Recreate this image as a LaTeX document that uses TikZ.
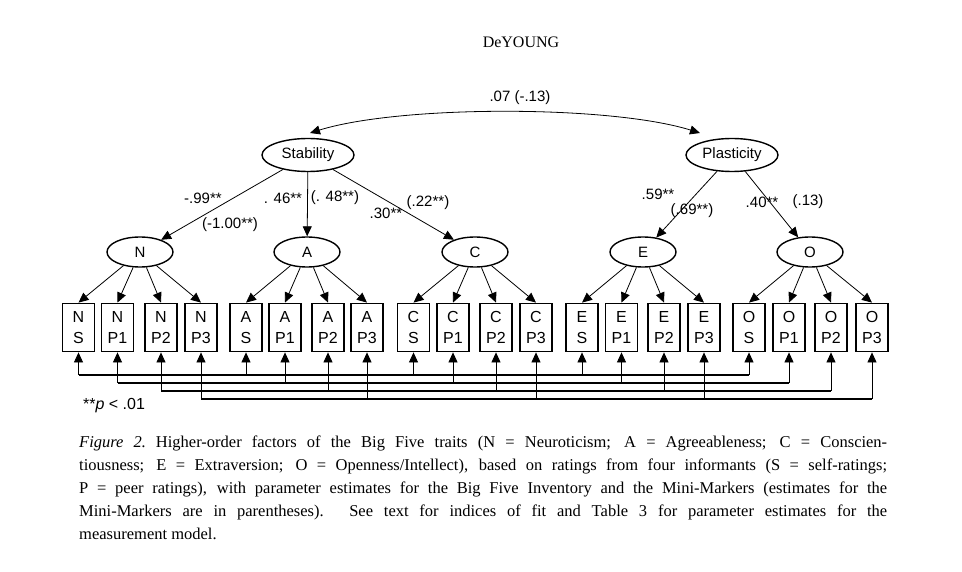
\documentclass[tikz,border=0pt]{standalone}
\usepackage{fontspec}
\setmainfont{Liberation Serif}
\newfontfamily\diag{Liberation Sans}
\usetikzlibrary{arrows.meta,calc,shapes.geometric}
\begin{document}
\begin{tikzpicture}[x=1pt,y=-1pt,
  lat/.style={draw,line width=1.4pt,ellipse,minimum width=66pt,minimum height=30pt,inner sep=0pt,font=\diag\fontsize{15}{16}\selectfont},
  big/.style={lat,minimum width=92pt,minimum height=33pt},
  ind/.style={draw,line width=1.8pt,minimum width=32pt,minimum height=48pt,inner sep=0pt,align=center,font=\diag\fontsize{16}{21}\selectfont},
  arr/.style={-{Triangle[length=10pt,width=9pt]},line width=0.8pt},
  lab/.style={font=\diag\fontsize{15}{16}\selectfont,inner sep=0pt},
  bus/.style={line width=1.1pt}]
\useasboundingbox (0,0) rectangle (962,572);
\node[font=\fontsize{16}{18}\selectfont] (hdr) at (521,42) {D\textsc{e}YOUNG};
\node[big] (stab) at (308,155) {Stability};
\node[big] (plas) at (732,155) {Plasticity};
\coordinate (a1) at (310,133);
\coordinate (a2) at (700,133);
\draw[{Triangle[length=10pt,width=9pt]}-{Triangle[length=10pt,width=9pt]},line width=0.8pt] (a1) .. controls (400,105) and (610,105) .. (a2);
\node[lab] (r) at (520,98) {.07 (-.13)};
\foreach \n/\x in {N/140,A/307,C/475,E/643,O/810}{
  \node[lat] (\n) at (\x,252) {\n};
}
\foreach \n/\xs/\xa/\xb/\xc in {N/78.5/117.5/161/201,A/246/285/328/367,C/413.5/453/496/536,E/582/621.5/664/704,O/749/789/831/872}{
  \node[ind] (\n s) at (\xs,327.5) {\n\\S};
  \node[ind] (\n p1) at (\xa,327.5) {\n\\P1};
  \node[ind] (\n p2) at (\xb,327.5) {\n\\P2};
  \node[ind] (\n p3) at (\xc,327.5) {\n\\P3};
  \foreach \k in {s,p1,p2,p3}{\draw[arr] (\n) -- (\n\k.north);}
}
\draw[arr] (stab) -- (N);
\draw[arr] (stab) -- (A);
\draw[arr] (stab) -- (C);
\draw[arr] (plas) -- (E);
\draw[arr] (plas) -- (O);
\node[lab] (l1) at (203,198) {-.99**};
\node[lab] (l2) at (230,225) {(-1.00**)};
\node[lab] (l3) at (283,198) {. 46**};
\node[lab] (l4) at (335,198) {(. 48**)};
\node[lab] (l5) at (386,213) {.30**};
\node[lab] (l6) at (428,203) {(.22**)};
\node[lab] (l7) at (658,194) {.59**};
\node[lab] (l8) at (692,211) {(.69**)};
\node[lab] (l9) at (762,202) {.40**};
\node[lab] (l10) at (808,202) {(.13)};
\foreach \k/\y in {s/375,p1/383,p2/391,p3/399}{
  \draw[bus] (N\k.south |- 0,\y) -- (O\k.south |- 0,\y);
  \foreach \n in {N,A,C,E,O}{\draw[arr] (\n\k.south |- 0,\y) -- (\n\k.south);}
}
\node[lab,font=\diag\fontsize{16}{16}\selectfont] (pp) at (114,406) {**\textit{p} < .01};
\node[anchor=north west,inner sep=0pt,text width=808pt,align=justify,font=\fontsize{16.5}{23}\selectfont] (cap) at (79,436) {\textit{Figure 2.}\hspace{0.6em}Higher-order factors of the Big Five traits (N = Neuroticism; A = Agreeableness; C = Conscien-\linebreak tiousness; E = Extraversion; O = Openness/Intellect), based on ratings from four informants (S = self-ratings;\linebreak P = peer ratings), with parameter estimates for the Big Five Inventory and the Mini-Markers (estimates for the\linebreak Mini-Markers are in parentheses). See text for indices of fit and Table 3 for parameter estimates for the\linebreak measurement model.};
\end{tikzpicture}
\end{document}
